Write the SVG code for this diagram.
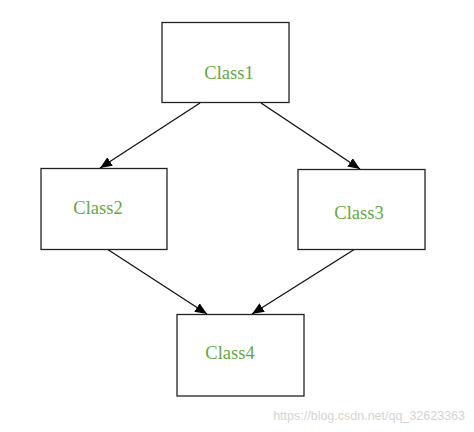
<svg xmlns="http://www.w3.org/2000/svg" width="474" height="432" viewBox="0 0 474 432">
<defs>
<style>
.box{fill:#fff;stroke:#222;stroke-width:1.3}
.lbl{font-family:"Liberation Serif","Times New Roman",serif;font-size:18.5px;fill:#64a844;text-anchor:middle}
.edge{stroke:#111;stroke-width:1.3;fill:none;marker-end:url(#ah)}
.wm{font-family:"Liberation Sans",Arial,sans-serif;font-size:12.5px;fill:#d4d4d4;text-anchor:end}
</style>
<marker id="ah" viewBox="0 0 12 10" refX="12" refY="5" markerWidth="12" markerHeight="10" markerUnits="userSpaceOnUse" orient="auto">
<path d="M0,0 L12,5 L0,10 z" fill="#000"/>
</marker>
</defs>
<rect width="474" height="432" fill="#fff"/>
<g id="connectors">
<line class="edge" x1="200" y1="103" x2="100" y2="168"/>
<line class="edge" x1="261" y1="103" x2="360" y2="169"/>
<line class="edge" x1="107" y1="249" x2="207" y2="314"/>
<line class="edge" x1="355" y1="249" x2="252" y2="314"/>
</g>
<g id="Class1"><rect class="box" x="162" y="22.5" width="127" height="80"/><text class="lbl" x="229" y="79">Class1</text></g>
<g id="Class2"><rect class="box" x="41" y="168.5" width="126" height="81"/><text class="lbl" x="98" y="214">Class2</text></g>
<g id="Class3"><rect class="box" x="298" y="169.5" width="127" height="80"/><text class="lbl" x="359" y="219">Class3</text></g>
<g id="Class4"><rect class="box" x="177" y="314.5" width="127" height="81.5"/><text class="lbl" x="230" y="359">Class4</text></g>
<text class="wm" x="465" y="420">https://blog.csdn.net/qq_32623363</text>
</svg>
